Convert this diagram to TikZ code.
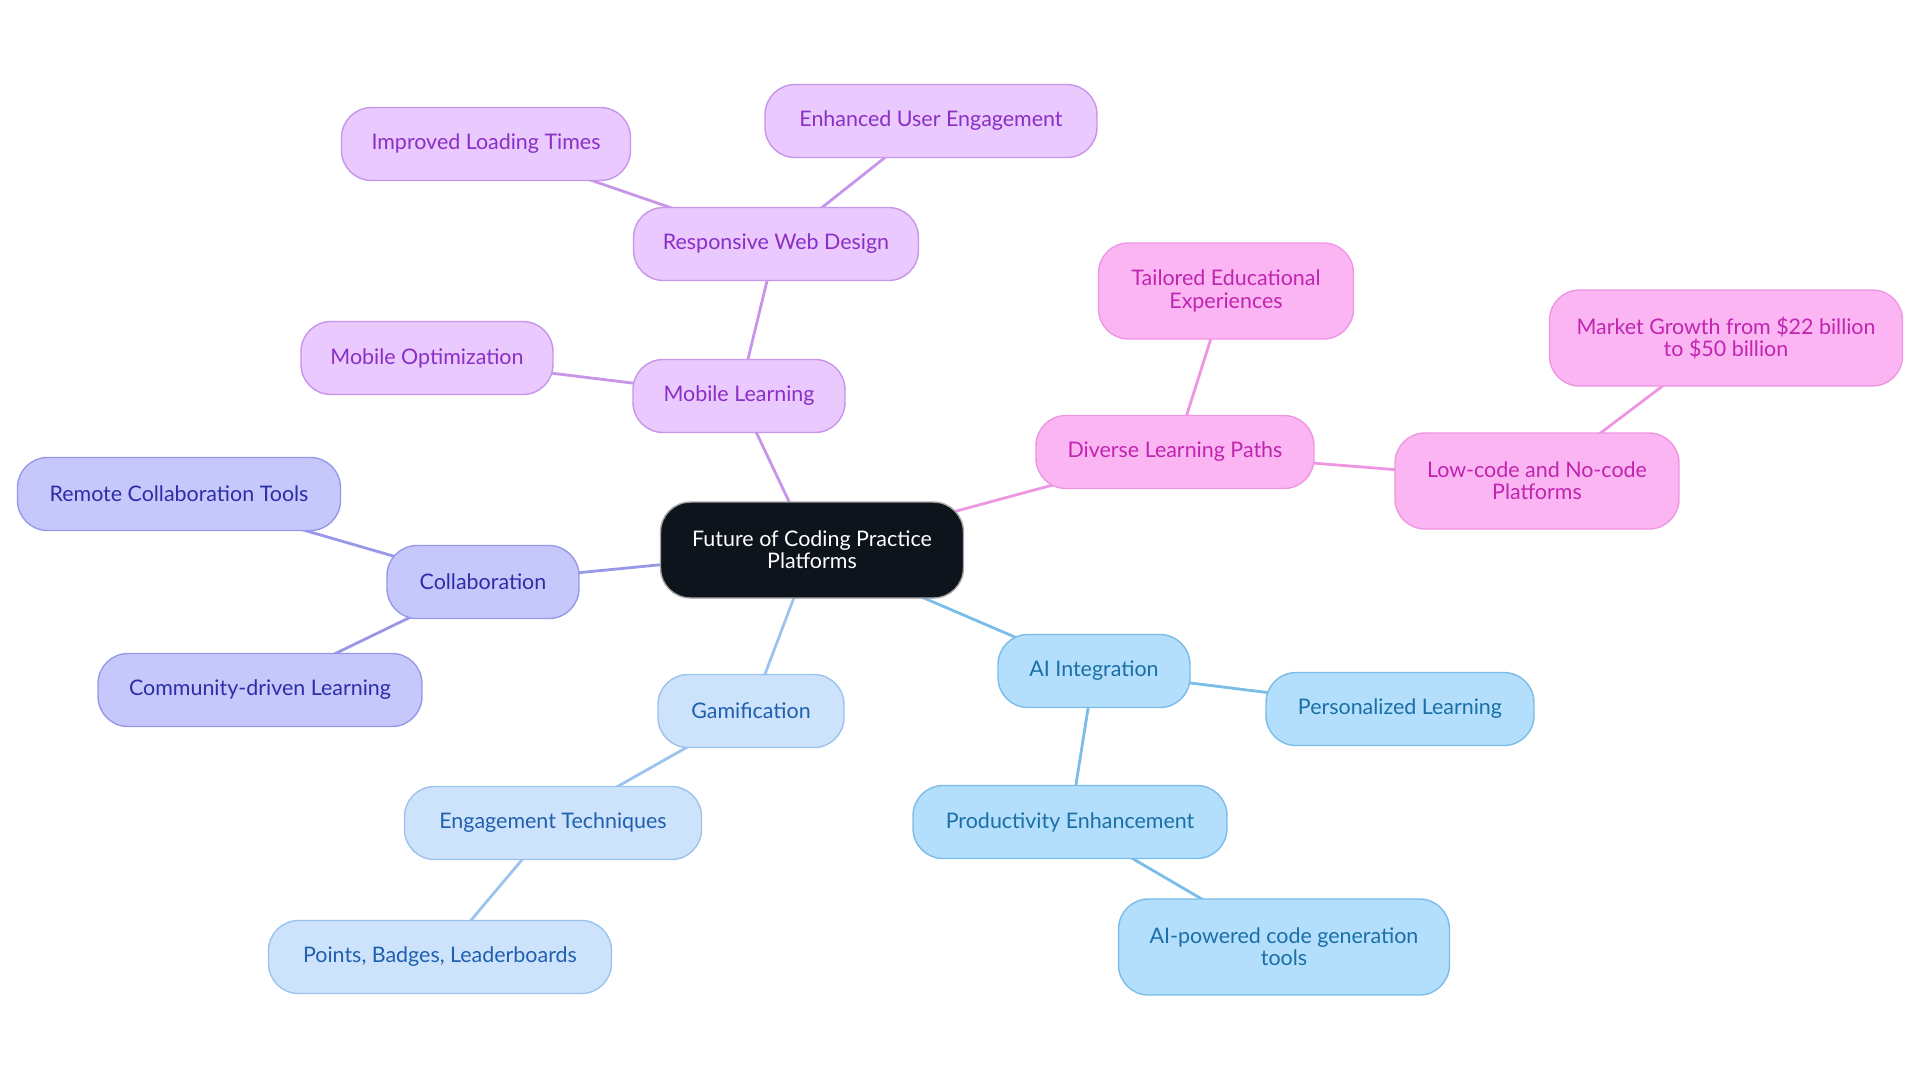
\documentclass[tikz,border=0pt]{standalone}
\usepackage{fontspec}
\setmainfont{Lato}
\usetikzlibrary{backgrounds}
\definecolor{rootfill}{HTML}{0D141C}
\definecolor{purplefill}{HTML}{E9C9FE}
\definecolor{purpleline}{HTML}{C795EA}
\definecolor{purpletext}{HTML}{8A2EC6}
\definecolor{pinkfill}{HTML}{FCB5F3}
\definecolor{pinkline}{HTML}{EE96E2}
\definecolor{pinktext}{HTML}{C024B0}
\definecolor{violetfill}{HTML}{C6C8FC}
\definecolor{violetline}{HTML}{9799E8}
\definecolor{violettext}{HTML}{2C2DA8}
\definecolor{paleblue}{HTML}{CDE3FC}
\definecolor{palebline}{HTML}{9CC3EE}
\definecolor{palebtext}{HTML}{1F5FAF}
\definecolor{skyfill}{HTML}{B3DEFC}
\definecolor{skyline}{HTML}{7BBDE9}
\definecolor{skytext}{HTML}{1A6FA6}
\tikzset{
  mapnode/.style={rounded corners=0.6cm, minimum height=1.46cm, inner sep=0.2cm,
    line width=0.8pt, align=center, font=\fontsize{12.2}{12.6}\selectfont},
  rootnode/.style={mapnode, minimum height=1.92cm, fill=rootfill, draw=gray!70, text=white},
  purplenode/.style={mapnode, fill=purplefill, draw=purpleline, text=purpletext},
  pinknode/.style={mapnode, fill=pinkfill, draw=pinkline, text=pinktext},
  violetnode/.style={mapnode, fill=violetfill, draw=violetline, text=violettext},
  palenode/.style={mapnode, fill=paleblue, draw=palebline, text=palebtext},
  skynode/.style={mapnode, fill=skyfill, draw=skyline, text=skytext},
  twoline/.style={minimum height=1.92cm},
  link/.style={line width=1.6pt},
}
\begin{document}
\begin{tikzpicture}[x=0.02cm,y=-0.02cm]
\useasboundingbox (0,0) rectangle (1920,1083);

\node[rootnode, minimum width=6.06cm] (root) at (812,550) {Future of Coding Practice\\Platforms};

% mobile learning branch
\node[purplenode, minimum width=4.24cm] (mobile) at (739,396) {Mobile Learning};
\node[purplenode, minimum width=5.7cm] (rwd) at (776,244) {Responsive Web Design};
\node[purplenode, minimum width=5.78cm] (loading) at (486,144) {Improved Loading Times};
\node[purplenode, minimum width=6.64cm] (engage) at (931,121) {Enhanced User Engagement};
\node[purplenode, minimum width=5.04cm] (mobopt) at (427,358) {Mobile Optimization};

% collaboration branch
\node[violetnode, minimum width=3.84cm] (collab) at (483,582) {Collaboration};
\node[violetnode, minimum width=6.46cm] (remote) at (179,494) {Remote Collaboration Tools};
\node[violetnode, minimum width=6.48cm] (community) at (260,690) {Community-driven Learning};

% gamification branch
\node[palenode, minimum width=3.72cm] (gamif) at (751,711) {Gamification};
\node[palenode, minimum width=5.94cm] (engtech) at (553,823) {Engagement Techniques};
\node[palenode, minimum width=6.86cm] (points) at (440,957) {Points, Badges, Leaderboards};

% ai branch
\node[skynode, minimum width=3.84cm] (ai) at (1094,671) {AI Integration};
\node[skynode, minimum width=5.36cm] (personal) at (1400,709) {Personalized Learning};
\node[skynode, minimum width=6.28cm] (product) at (1070,822) {Productivity Enhancement};
\node[skynode, twoline, minimum width=6.62cm] (aicode) at (1284,947) {AI-powered code generation\\tools};

% learning paths branch
\node[pinknode, minimum width=5.56cm] (diverse) at (1175,452) {Diverse Learning Paths};
\node[pinknode, twoline, minimum width=5.1cm] (tailored) at (1226,291) {Tailored Educational\\Experiences};
\node[pinknode, twoline, minimum width=5.68cm] (lowcode) at (1537,481) {Low-code and No-code\\Platforms};
\node[pinknode, twoline, minimum width=7.06cm] (market) at (1726,338) {Market Growth from \$22 billion\\to \$50 billion};

\begin{scope}[on background layer]
  \draw[link, purpleline] (root.center) -- (mobile.center);
  \draw[link, purpleline] (mobile.center) -- (rwd.center);
  \draw[link, purpleline] (rwd.center) -- (loading.center);
  \draw[link, purpleline] (rwd.center) -- (engage.center);
  \draw[link, purpleline] (mobile.center) -- (mobopt.center);
  \draw[link, violetline] (root.center) -- (collab.center);
  \draw[link, violetline] (collab.center) -- (remote.center);
  \draw[link, violetline] (collab.center) -- (community.center);
  \draw[link, palebline] (root.center) -- (gamif.center);
  \draw[link, palebline] (gamif.center) -- (engtech.center);
  \draw[link, palebline] (engtech.center) -- (points.center);
  \draw[link, skyline] (root.center) -- (ai.center);
  \draw[link, skyline] (ai.center) -- (personal.center);
  \draw[link, skyline] (ai.center) -- (product.center);
  \draw[link, skyline] (product.center) -- (aicode.center);
  \draw[link, pinkline] (root.center) -- (diverse.center);
  \draw[link, pinkline] (diverse.center) -- (tailored.center);
  \draw[link, pinkline] (diverse.center) -- (lowcode.center);
  \draw[link, pinkline] (lowcode.center) -- (market.center);
\end{scope}
\end{tikzpicture}
\end{document}
